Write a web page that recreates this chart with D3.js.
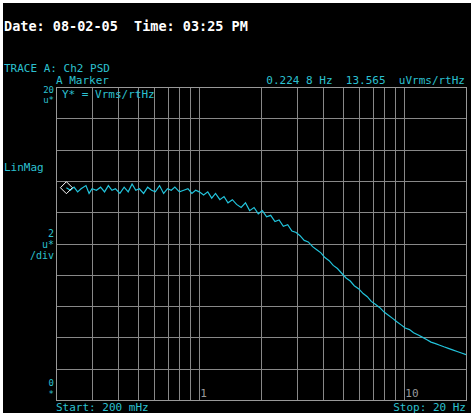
<!DOCTYPE html><html><head><script src="https://cdn.jsdelivr.net/npm/d3@7"></script>
<style>body{margin:0;background:#fff}</style></head><body><svg id="c" width="474" height="416"></svg>
<script>
const freqs=[0.2248,0.235,0.245,0.255,0.265,0.28,0.29,0.30,0.315,0.33,0.345,0.36,0.375,0.39,0.41,0.43,0.45,0.47,0.49,0.51,0.535,0.56,0.585,0.61,0.64,0.67,0.70,0.73,0.76,0.80,0.84,0.88,0.92,0.96,1.0,1.05,1.1,1.15,1.2,1.26,1.32,1.38,1.45,1.52,1.6,1.68,1.76,1.85,1.94,2.03,2.13,2.23,2.34,2.45,2.57,2.7,2.83,2.97,3.1,3.25,3.4,3.57,3.74,3.92,4.1,4.3,4.5,4.72,4.95,5.2,5.45,5.7,6.0,6.3,6.6,6.9,7.25,7.6,8.0,8.4,8.8,9.2,9.65,10.1,10.6,11.1,11.7,12.3,12.9,13.5,14.2,14.9,15.6,16.4,17.2,18.1,19.0,20.0];
const vals=[13.565,13.4,13.6,13.3,13.5,13.7,13.2,13.5,13.4,13.6,13.3,13.7,13.4,13.5,13.2,13.6,13.3,13.8,13.4,13.5,13.2,13.6,13.4,13.3,13.7,13.2,13.5,13.4,13.6,13.3,13.4,13.5,13.2,13.4,13.3,13.1,13.3,12.9,13.2,12.8,13.0,12.6,12.8,12.5,12.3,12.6,12.1,12.3,11.9,12.1,11.7,11.8,11.4,11.5,11.1,11.2,10.8,10.7,10.5,10.2,10.1,9.8,9.6,9.4,9.1,8.9,8.6,8.4,8.1,7.8,7.6,7.3,7.1,6.8,6.6,6.3,6.1,5.9,5.6,5.4,5.2,5.0,4.8,4.6,4.5,4.3,4.15,4.0,3.85,3.7,3.6,3.5,3.4,3.3,3.2,3.1,3.0,2.9];
const xGrid=[0.3,0.4,0.5,0.6,0.7,0.8,0.9,1,2,3,4,5,6,7,8,9,10];
const yTicks=d3.range(0,21,2);
const svg=d3.select("#c");
svg.append("rect").attr("x",3).attr("y",3).attr("width",468).attr("height",410).attr("fill","#000");
const L=56,R=466,T=87,B=400;
const x=d3.scaleLog().domain([0.2,20]).range([L,R]);
const y=d3.scaleLinear().domain([0,20]).range([B,T]);
const g=svg.append("g").attr("stroke","#888").attr("stroke-width",1);
xGrid.forEach(f=>g.append("line").attr("x1",Math.round(x(f))+.5).attr("x2",Math.round(x(f))+.5).attr("y1",T).attr("y2",B));
yTicks.forEach(v=>g.append("line").attr("x1",L).attr("x2",R).attr("y1",Math.round(y(v))+.5).attr("y2",Math.round(y(v))+.5));
svg.append("rect").attr("x",L+.5).attr("y",T+.5).attr("width",R-L).attr("height",B-T).attr("fill","none").attr("stroke","#999");
const pts=freqs.map((f,i)=>[f,vals[i]]);
svg.append("path").attr("d",d3.line().x(d=>x(d[0])).y(d=>y(d[1]))(pts)).attr("fill","none").attr("stroke","#22c4dc").attr("stroke-width",1.2);
const mx=x(0.2248),my=y(13.565);
svg.append("path").attr("d",`M${mx-6},${my}L${mx},${my-6}L${mx+6},${my}L${mx},${my+6}Z`).attr("fill","none").attr("stroke","#fff");
const C="#2cc0d0",F="'DejaVu Sans Mono',monospace";
function t(s,px,py,o={}){svg.append("text").attr("x",px).attr("y",py).text(s).attr("fill",o.c||C).attr("font-family",F).attr("font-size",o.s||11).attr("font-weight",o.w||"normal").attr("text-anchor",o.a||"start").attr("xml:space","preserve");}
t("Date: 08-02-05  Time: 03:25 PM",4,31,{c:"#fff",s:13.5,w:"bold"});
t("TRACE A: Ch2 PSD",4,72);
t("A Marker",56,84);
t("0.224 8 Hz  13.565  uVrms/rtHz",465,84,{a:"end"});
t("20",54,93,{a:"end",s:9});t("u*",54,103,{a:"end",s:9});
t("Y* = Vrms/rtHz",62,98);
t("LinMag",4,171);
t("2",54,237,{a:"end",s:10});t("u*",54,248,{a:"end",s:10});t("/div",54,259,{a:"end",s:10});
t("0",54,386,{a:"end",s:9});t("*",54,397,{a:"end",s:9});
t("1",x(1)+1,397,{c:"#999"});t("10",x(10)+1,397,{c:"#999"});
t("Start: 200 mHz",56,411);
t("Stop: 20 Hz",466,411,{a:"end"});
</script></body></html>
